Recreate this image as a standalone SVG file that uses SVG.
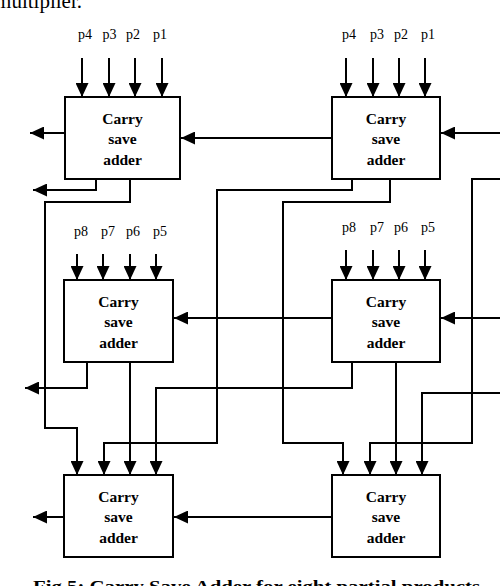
<svg xmlns="http://www.w3.org/2000/svg" width="500" height="586" viewBox="0 0 500 586">
<style>
.box{fill:#fff;stroke:#000;stroke-width:2}
.w{fill:none;stroke:#000;stroke-width:2}
.a{marker-end:url(#ah)}
.lbl{font-family:"Liberation Serif",serif;font-size:14px;text-anchor:middle}
.bt{font-family:"Liberation Serif",serif;font-size:15.5px;font-weight:bold;text-anchor:middle}
</style>
<defs>
<marker id="ah" markerUnits="userSpaceOnUse" markerWidth="15" markerHeight="13" refX="14" refY="6.5" orient="auto">
<path d="M0,0 L14,6.5 L0,13 z" fill="#000"/>
</marker>
</defs>
<rect width="500" height="586" fill="#fff"/>
<text x="82" y="8" font-family="Liberation Serif,serif" font-size="21" text-anchor="end">multiplier.</text>

<g id="connectors">
<!-- TL inputs -->
<path class="w a" d="M82,58V97"/><path class="w a" d="M109,58V97"/>
<path class="w a" d="M135,58V97"/><path class="w a" d="M162,58V97"/>
<!-- TR inputs -->
<path class="w a" d="M346,58V97"/><path class="w a" d="M373,58V97"/>
<path class="w a" d="M399,58V97"/><path class="w a" d="M425,58V97"/>
<!-- ML inputs -->
<path class="w a" d="M77,254V280"/><path class="w a" d="M103,254V280"/>
<path class="w a" d="M130,254V280"/><path class="w a" d="M156,254V280"/>
<!-- MR inputs -->
<path class="w a" d="M346,250V280"/><path class="w a" d="M373,250V280"/>
<path class="w a" d="M399,250V280"/><path class="w a" d="M425,250V280"/>
<!-- TL -->
<path class="w a" d="M65,133H30"/>
<path class="w a" d="M96,179V190H33"/>
<path class="w a" d="M130,179V202H45V428H77V475"/>
<!-- TR -->
<path class="w a" d="M332,138H181"/>
<path class="w a" d="M500,133H441"/>
<path class="w a" d="M352,179V190H217V443H104V475"/>
<path class="w a" d="M390,179V202H283V443H343V475"/>
<path class="w a" d="M500,179H472V443H370V475"/>
<!-- ML -->
<path class="w a" d="M332,318H174"/>
<path class="w a" d="M87,362V388H25"/>
<path class="w a" d="M130,362V475"/>
<!-- MR -->
<path class="w a" d="M500,318H441"/>
<path class="w a" d="M352,362V388H156V475"/>
<path class="w a" d="M396,362V475"/>
<path class="w a" d="M500,393H422V475"/>
<!-- bottom -->
<path class="w a" d="M64,517H33"/>
<path class="w a" d="M332,517H174"/>
</g>

<g id="csa_tl">
<rect class="box" x="65" y="97" width="115" height="82"/>
<text class="bt" x="122.5" y="124">Carry</text><text class="bt" x="122.5" y="144">save</text><text class="bt" x="122.5" y="165">adder</text>
<text class="lbl" x="85" y="39">p4</text><text class="lbl" x="109.5" y="39">p3</text><text class="lbl" x="133" y="39">p2</text><text class="lbl" x="160" y="39">p1</text>
</g>
<g id="csa_tr">
<rect class="box" x="332" y="97" width="108" height="82"/>
<text class="bt" x="386" y="124">Carry</text><text class="bt" x="386" y="144">save</text><text class="bt" x="386" y="165">adder</text>
<text class="lbl" x="349" y="39">p4</text><text class="lbl" x="377" y="39">p3</text><text class="lbl" x="401" y="39">p2</text><text class="lbl" x="428" y="39">p1</text>
</g>
<g id="csa_ml">
<rect class="box" x="64" y="280" width="109" height="82"/>
<text class="bt" x="118.5" y="307">Carry</text><text class="bt" x="118.5" y="327">save</text><text class="bt" x="118.5" y="348">adder</text>
<text class="lbl" x="81" y="236">p8</text><text class="lbl" x="108" y="236">p7</text><text class="lbl" x="133" y="236">p6</text><text class="lbl" x="160" y="236">p5</text>
</g>
<g id="csa_mr">
<rect class="box" x="332" y="280" width="108" height="82"/>
<text class="bt" x="386" y="307">Carry</text><text class="bt" x="386" y="327">save</text><text class="bt" x="386" y="348">adder</text>
<text class="lbl" x="349" y="232">p8</text><text class="lbl" x="377" y="232">p7</text><text class="lbl" x="401" y="232">p6</text><text class="lbl" x="428" y="232">p5</text>
</g>
<g id="csa_bl">
<rect class="box" x="64" y="475" width="109" height="82"/>
<text class="bt" x="118.5" y="502">Carry</text><text class="bt" x="118.5" y="522">save</text><text class="bt" x="118.5" y="543">adder</text>
</g>
<g id="csa_br">
<rect class="box" x="332" y="475" width="108" height="82"/>
<text class="bt" x="386" y="502">Carry</text><text class="bt" x="386" y="522">save</text><text class="bt" x="386" y="543">adder</text>
</g>
<text x="33" y="592" font-family="Liberation Serif,serif" font-size="16" font-weight="bold" textLength="447" lengthAdjust="spacingAndGlyphs">Fig 5: Carry Save Adder for eight partial products</text>
</svg>
